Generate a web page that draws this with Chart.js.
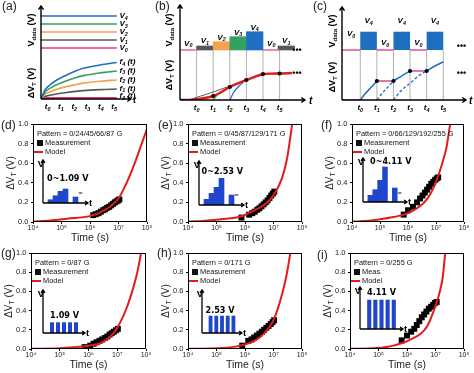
<!DOCTYPE html>
<html>
<head>
<meta charset="utf-8">
<script src="https://cdn.jsdelivr.net/npm/chart.js@4.4.1/dist/chart.umd.min.js"></script>
<style>
  html, body { margin: 0; padding: 0; background: #fff; }
  body { position: relative; width: 474px; height: 373px; overflow: hidden; }
  canvas { position: absolute; }
  .tag { position: absolute; z-index: 5; font: 12px 'Liberation Sans', Arial, sans-serif; color: #222; line-height: 12px; }
</style>
</head>
<body>
<div class="tag" style="left:2px;top:0px">(a)</div>
<div class="tag" style="left:155px;top:0px">(b)</div>
<div class="tag" style="left:313px;top:0px">(c)</div>
<div class="tag" style="left:1px;top:119px">(d)</div>
<div class="tag" style="left:158px;top:119px">(e)</div>
<div class="tag" style="left:321px;top:119px">(f)</div>
<div class="tag" style="left:1px;top:247px">(g)</div>
<div class="tag" style="left:157px;top:247px">(h)</div>
<div class="tag" style="left:317px;top:249px">(i)</div>
<script>
/* ── Degradation figure: schematics (a–c) + ΔVT vs time fits (d–i) ── */

const FONT = "'Liberation Sans', Arial, sans-serif";
const NARROW = "'Liberation Sans Narrow', 'DejaVu Sans Condensed', 'Roboto Condensed', Roboto, sans-serif";
const RED = '#e41a1c';
const INSET_BLUE = '#1f46cc';
const LEVEL_COLORS = ['#1f6fc0', '#35a062', '#f4a24e', '#575757', '#ea3d6e']; // V4 .. V0
const SUP = { 4: '⁴', 5: '⁵', 6: '⁶', 7: '⁷', 8: '⁸' };
const T_SUB = ['0', '1', '2', '3', '4', '5'];

// ── (a) levels and f(t) curves ───────────────────────────────
const aLevelSub = ['4', '3', '2', '1', '0'];
const aLevelY = [83, 75, 67, 59, 51];
const aLevelEnd = [0, 5.7];
const aCurveX = [0, 0.3, 0.67, 1.25, 1.93, 2.6, 3.19, 4.44, 5.7];
const aF4 = [0, 9, 14, 19.5, 24, 28, 30.7, 34, 36.5];
const aF3 = [0, 6.8, 10.7, 14.8, 18.3, 21.3, 23.4, 26.1, 28];
const aF2 = [0, 4.6, 7.3, 10, 12.4, 14.4, 15.9, 17.8, 19];
const aF1 = [0, 2.4, 3.8, 5.2, 6.5, 7.6, 8.4, 9.4, 10];
const aF0 = [0.9, 0.9];
const aFLabelY = [37, 28.5, 19.5, 10.5, 3];
const aTickX = [0.5, 1.5, 2.5, 3.5, 4.5, 5.5];

// ── (b) stepped pattern ──────────────────────────────────────
const bTickX = [1, 2, 3, 4, 5, 6];
const bV0Level = 50;
const bBarX = [1.5, 2.5, 3.5, 4.5, 6.4];
const bBarTop = [54, 58.3, 63.3, 68.3, 54];
const bBarLevel = [1, 2, 3, 4, 1];
const bV0 = [[0, 1], [5, 6]];
const bLabelX = [0.5, 1.5, 2.5, 3.5, 4.5, 5.5, 6.4];
const bLabelSub = ['0', '1', '2', '3', '4', '0', '1'];
const bLabelY = [56.7, 59.3, 62.7, 67.7, 72.7, 56.7, 59.3];
const bRedX = [0, 0.6, 1, 1.5, 2, 2.5, 3, 3.5, 4, 4.5, 5, 5.5, 6, 6.75];
const bRedY = [0, 0, 1, 2, 4, 8, 13, 16.7, 20, 23.2, 26, 26.4, 26.5, 27];
const bThinX = [0.5, 2, 3, 4, 5, 6, 6.75];
const bThinY = [0, 8, 14, 20, 25, 26.5, 27];
const bOrangeX = [1.2, 1.5, 1.75, 2];
const bOrangeY = [0, 1.8, 3, 4];
const bGreenX = [2, 2.25, 2.5, 2.75, 3];
const bGreenY = [0, 5, 8.5, 11, 13];
const bBlueX = [3, 3.25, 3.5, 3.75, 4];
const bBlueY = [0, 8, 13, 17, 20];
const bDotX = [2, 3, 4, 5, 6];
const bDotY = [4, 13, 20, 26, 26.5];

// ── (c) on/off pattern ───────────────────────────────────────
const cTickX = [1.1, 2.1, 3.1, 4.1, 5.1, 6.1];
const cV0Level = 50;
const cBarX = [1.6, 3.6, 5.6];
const cBarTop = 68.3;
const cV0 = [[0, 1.1], [2.1, 3.1], [4.1, 5.1]];
const cLabelX = [0.55, 1.6, 2.6, 3.6, 4.6, 5.6];
const cLabelSub = ['0', '4', '0', '4', '0', '4'];
const cLabelY = [66, 79, 57, 79, 57, 79];
const cSeg1X = [1.1, 1.38, 1.7, 2.1];
const cSeg1Y = [0, 6, 11.7, 19];
const cSeg2X = [3.1, 3.6, 4.1];
const cSeg2Y = [19, 24.2, 29];
const cSeg3X = [5.1, 5.6, 6.1];
const cSeg3Y = [29, 34, 38];
const cDash1X = [2.1, 2.38, 2.7, 3.1];
const cDash1Y = [0, 6, 11.7, 19];
const cDash2X = [3.1, 3.6, 4.1, 4.6, 5.07];
const cDash2Y = [0, 10, 16.7, 24, 29];
const cFlats = [[0, 1.1, 0], [2.1, 3.1, 19], [4.1, 5.1, 29]];
const cDotX = [2.1, 3.1, 4.1, 5.1];
const cDotY = [19, 19, 29, 29];

// ── (d)–(i) model and measurement ────────────────────────────
const X_TICKS = [1e4, 1e5, 1e6, 1e7, 1e8];
const Y_TICKS = [0, 0.2, 0.4, 0.6, 0.8, 1.0];

const dModelX = [1e4, 4e4, 1.6e5, 1e6, 2.4e6, 1e7, 2e7, 3.5e7, 6e7, 1e8];
const dModelY = [0.005, 0.015, 0.034, 0.06, 0.1, 0.24, 0.41, 0.58, 0.77, 0.95];
const dMeasX = [1.3e6, 1.6e6, 2.0e6, 2.4e6, 2.9e6, 3.4e6, 4.0e6, 4.7e6, 5.5e6, 6.4e6, 7.4e6, 8.5e6, 9.6e6, 1.07e7];
const dMeasY = [0.07, 0.08, 0.09, 0.105, 0.12, 0.13, 0.145, 0.155, 0.17, 0.185, 0.2, 0.21, 0.22, 0.23];

const eModelX = [1e4, 4e4, 1.5e5, 7.5e5, 2.2e6, 6.6e6, 1.15e7, 2e7, 3e7, 4.5e7, 5.2e7];
const eModelY = [0.005, 0.013, 0.027, 0.058, 0.12, 0.21, 0.3, 0.45, 0.65, 1.0, 1.15];
const eMeasX = [7.5e5, 1.4e6, 1.8e6, 2.2e6, 2.7e6, 3.2e6, 3.8e6, 4.5e6, 5.3e6, 6.2e6, 7.2e6, 8.3e6, 9.5e6, 1.07e7];
const eMeasY = [0.045, 0.075, 0.09, 0.105, 0.125, 0.14, 0.16, 0.18, 0.2, 0.22, 0.245, 0.27, 0.29, 0.31];

const fModelX = [1e4, 2e4, 7.8e4, 3e5, 1.2e6, 4.7e6, 1e7, 1.8e7, 2.4e7, 3.2e7, 3.6e7];
const fModelY = [0.003, 0.007, 0.024, 0.05, 0.1, 0.23, 0.41, 0.63, 0.77, 1.0, 1.1];
const fMeasX = [7e5, 1e6, 1.5e6, 2.1e6, 2.7e6, 3.3e6, 4e6, 4.8e6, 5.7e6, 6.8e6, 8e6, 9.3e6, 1.07e7, 1.2e7];
const fMeasY = [0.075, 0.12, 0.155, 0.2, 0.24, 0.27, 0.3, 0.33, 0.36, 0.39, 0.41, 0.43, 0.445, 0.455];

const gModelX = [1e4, 1e5, 3e5, 1e6, 2.6e6, 5.7e6, 1e7, 2.2e7, 3.7e7, 5e7, 6.7e7, 7.5e7];
const gModelY = [0.002, 0.008, 0.018, 0.035, 0.06, 0.13, 0.22, 0.44, 0.65, 0.8, 1.0, 1.1];
const gMeasX = [7.3e5, 1.15e6, 1.5e6, 1.9e6, 2.4e6, 3e6, 3.7e6, 4.5e6, 5.4e6, 6.4e6, 7.6e6, 9e6, 1.05e7];
const gMeasY = [0.02, 0.035, 0.055, 0.07, 0.085, 0.1, 0.115, 0.13, 0.15, 0.165, 0.18, 0.195, 0.21];

const hModelX = [1e4, 1.5e5, 5.8e5, 2.2e6, 5e6, 1e7, 2e7, 3e7, 3.9e7, 4.5e7];
const hModelY = [0.002, 0.01, 0.03, 0.087, 0.17, 0.3, 0.57, 0.8, 1.0, 1.12];
const hMeasX = [8e5, 1.3e6, 1.7e6, 2.1e6, 2.6e6, 3.2e6, 3.9e6, 4.7e6, 5.6e6, 6.7e6, 8e6, 9.3e6, 1.05e7];
const hMeasY = [0.035, 0.085, 0.1, 0.12, 0.14, 0.16, 0.18, 0.2, 0.22, 0.24, 0.26, 0.28, 0.3];

const iModelX = [1e4, 8.7e4, 3.3e5, 1.25e6, 4.9e6, 1e7, 1.45e7, 1.8e7, 2.2e7, 2.5e7];
const iModelY = [0.002, 0.01, 0.035, 0.094, 0.23, 0.45, 0.61, 0.75, 1.0, 1.12];
const iMeasX = [6.5e5, 1e6, 1.4e6, 1.8e6, 2.2e6, 2.7e6, 3.3e6, 4e6, 4.8e6, 5.8e6, 7e6, 8.3e6, 9.6e6, 1.1e7];
const iMeasY = [0.09, 0.14, 0.18, 0.21, 0.25, 0.29, 0.33, 0.36, 0.39, 0.42, 0.44, 0.46, 0.48, 0.49];

// inset pulse patterns (heights)
const dInset = [null, 3.3, 7.3, 11.7, 14, 0, 6, null, null];
const dDash = [null, null, null, null, null, null, null, [9.5, 10.5], null];
const eInset = [null, 5.7, 11.7, 17.7, 26.7, 0, 10, null, null];
const eDash = [null, null, null, null, null, null, null, [9.5, 10.5], null];
const fInset = [null, 6.7, 12.3, 21.7, 35, 0, 14, null, null];
const fDash = [null, null, null, null, null, null, null, [8.5, 9.5], null];
const gInset = [null, 10.7, 10.7, 10.7, 10.7, 10.7, null];
const hInset = [null, 17.3, 17.3, 17.3, 17.3, 17.3, null];
const iInset = [null, 29.3, 29.3, 29.3, 29.3, 29.3, null];

// ── helpers ──────────────────────────────────────────────────
Chart.defaults.font.family = FONT;
Chart.defaults.animation = false;
Chart.defaults.plugins.legend.display = false;
Chart.defaults.plugins.tooltip.enabled = false;

const pts = (xs, ys) => xs.map((x, i) => ({ x, y: ys[i] }));
const segs = (list, y) => list.flatMap(([a, b]) => [{ x: a, y }, { x: b, y }, { x: b, y: null }]);
const vlines = (xs, y0, y1) => xs.flatMap(x => [{ x, y: y0 }, { x, y: y1 }, { x, y: null }]);
const curve = { cubicInterpolationMode: 'monotone' };

function ln(data, color, width, extra) {
  return Object.assign({ type: 'line', data, borderColor: color, borderWidth: width, pointRadius: 0, fill: false, spanGaps: false }, extra || {});
}
function dots(xs, ys) {
  return { type: 'line', data: pts(xs, ys), showLine: false, pointRadius: 2.1, pointBackgroundColor: '#000', pointBorderWidth: 0, order: -2 };
}

function addCanvas(left, top, w, h) {
  const c = document.createElement('canvas');
  c.width = w; c.height = h;
  c.style.left = left + 'px'; c.style.top = top + 'px';
  c.style.width = w + 'px'; c.style.height = h + 'px';
  document.body.appendChild(c);
  return c;
}

function drawRich(ctx, parts, x, y, size, o = {}) {
  const fam = o.family || FONT;
  const f = s => `${o.italic ? 'italic ' : ''}${o.bold ? 'bold ' : ''}${s}px ${fam}`;
  ctx.save();
  ctx.translate(x, y);
  if (o.rot) ctx.rotate(o.rot);
  ctx.textBaseline = 'middle';
  ctx.textAlign = 'left';
  ctx.fillStyle = o.color || '#000';
  let w = 0;
  parts.forEach(([t, sub]) => { ctx.font = f(sub ? size * 0.68 : size); w += ctx.measureText(t).width; });
  let cx = o.align === 'left' ? 0 : o.align === 'right' ? -w : -w / 2;
  parts.forEach(([t, sub]) => {
    ctx.font = f(sub ? size * 0.68 : size);
    ctx.fillText(t, cx, sub ? size * 0.3 : 0);
    cx += ctx.measureText(t).width;
  });
  ctx.restore();
}

function arrow(ctx, x1, y1, x2, y2, lw = 1.4, head = 4.5) {
  const a = Math.atan2(y2 - y1, x2 - x1);
  ctx.save();
  ctx.strokeStyle = '#000';
  ctx.lineWidth = lw;
  ctx.beginPath();
  ctx.moveTo(x1, y1); ctx.lineTo(x2, y2);
  ctx.moveTo(x2 - head * Math.cos(a - 0.6), y2 - head * Math.sin(a - 0.6));
  ctx.lineTo(x2, y2);
  ctx.lineTo(x2 - head * Math.cos(a + 0.6), y2 - head * Math.sin(a + 0.6));
  ctx.stroke();
  ctx.restore();
}

function yTitles(ctx, x, y1, y2) {
  drawRich(ctx, [['V', 0], ['data', 1], [' (V)', 0]], x, y1, 9, { bold: true, rot: -Math.PI / 2 });
  drawRich(ctx, [['ΔV', 0], ['T', 1], [' (V)', 0]], x, y2, 9, { bold: true, rot: -Math.PI / 2 });
}

const BI = { bold: true, italic: true };

function schematic(left, top, w, h, area, unit, datasets, draw) {
  const c = addCanvas(left, top, w, h);
  return new Chart(c, {
    type: 'line',
    data: { datasets },
    options: {
      devicePixelRatio: 1, responsive: false, events: [],
      layout: { padding: { left: area.l - left, top: area.t - top, right: left + w - area.r, bottom: top + h - area.b } },
      scales: {
        x: { type: 'linear', display: false, min: 0, max: (area.r - area.l) / unit, offset: false },
        y: { type: 'linear', display: false, min: 0, max: area.b - area.t },
      },
    },
    plugins: [{ id: 'deco', afterDatasetsDraw: draw }],
  });
}

// ── (a) ──────────────────────────────────────────────────────
schematic(0, 0, 155, 115, { l: 41, t: 6, r: 131, b: 99 }, 13.3, [
  ...aLevelY.map((v, i) => ln(pts(aLevelEnd, [v, v]), LEVEL_COLORS[i], 1.6)),
  ln(pts(aCurveX, aF4), LEVEL_COLORS[0], 1.6, curve),
  ln(pts(aCurveX, aF3), LEVEL_COLORS[1], 1.6, curve),
  ln(pts(aCurveX, aF2), LEVEL_COLORS[2], 1.6, curve),
  ln(pts(aCurveX, aF1), LEVEL_COLORS[3], 1.6, curve),
  ln(pts(aLevelEnd, aF0), LEVEL_COLORS[4], 2.4),
], chart => {
  const { ctx, chartArea: a, scales: { x, y } } = chart;
  arrow(ctx, a.left, a.bottom, a.left, a.top);
  arrow(ctx, a.left, a.bottom, a.right, a.bottom);
  const lx = x.getPixelForValue(5.9);
  aLevelY.forEach((v, i) => drawRich(ctx, [['V', 0], [aLevelSub[i], 1]], lx, y.getPixelForValue(v), 8, { ...BI, align: 'left' }));
  aFLabelY.forEach((v, i) => drawRich(ctx, [['f', 0], [aLevelSub[i], 1], [' (t)', 0]], lx, y.getPixelForValue(v), 8, { ...BI, align: 'left' }));
  aTickX.forEach((t, i) => drawRich(ctx, [['t', 0], [T_SUB[i], 1]], x.getPixelForValue(t), a.bottom + 8, 8, BI));
  drawRich(ctx, [['t', 0]], a.right + 2, a.bottom + 2, 9, { ...BI, align: 'left' });
  yTitles(ctx, 32, 30, 83);
});

// ── (b) ──────────────────────────────────────────────────────
schematic(155, 0, 160, 115, { l: 180, t: 5, r: 305, b: 100 }, 16.6, [
  ln(vlines(bTickX, 0, bV0Level), '#9c9c9c', 0.8, { order: 4 }),
  { type: 'bar', data: bBarX.map((x, i) => ({ x, y: [bV0Level, bBarTop[i]] })),
    backgroundColor: bBarLevel.map(l => LEVEL_COLORS[4 - l]), barPercentage: 1, categoryPercentage: 1, grouped: false, order: 3 },
  ln(segs(bV0, bV0Level), '#e26aa6', 1.6, { order: 2 }),
  ln(pts(bThinX, bThinY), '#333', 0.8, { ...curve, order: 1 }),
  ln(pts(bOrangeX, bOrangeY), LEVEL_COLORS[2], 1.1, { ...curve, order: 1 }),
  ln(pts(bGreenX, bGreenY), LEVEL_COLORS[1], 1.1, { ...curve, order: 1 }),
  ln(pts(bBlueX, bBlueY), LEVEL_COLORS[0], 1.3, { ...curve, order: 1 }),
  ln(pts(bRedX, bRedY), RED, 2.4, { ...curve, order: 0 }),
  dots(bDotX, bDotY),
], chart => {
  const { ctx, chartArea: a, scales: { x, y } } = chart;
  arrow(ctx, a.left, a.bottom, a.left, a.top);
  arrow(ctx, a.left, a.bottom, a.right, a.bottom);
  bLabelX.forEach((v, i) => drawRich(ctx, [['V', 0], [bLabelSub[i], 1]], x.getPixelForValue(v), y.getPixelForValue(bLabelY[i]), 8, BI));
  bTickX.forEach((t, i) => drawRich(ctx, [['t', 0], [T_SUB[i], 1]], x.getPixelForValue(t), a.bottom + 8, 8, BI));
  drawRich(ctx, [['t', 0]], a.right + 4, a.bottom + 1, 10, { ...BI, align: 'left' });
  drawRich(ctx, [['•••', 0]], x.getPixelForValue(7.05), y.getPixelForValue(bV0Level) + 1, 9, { bold: true });
  drawRich(ctx, [['•••', 0]], x.getPixelForValue(7.05), y.getPixelForValue(26.5), 9, { bold: true });
  yTitles(ctx, 15, 30, 75);
});

// ── (c) ──────────────────────────────────────────────────────
schematic(310, 0, 164, 115, { l: 342, t: 7, r: 466, b: 100 }, 16.6, [
  ln(vlines(cTickX, 0, cV0Level), '#9c9c9c', 0.8, { order: 4 }),
  { type: 'bar', data: cBarX.map(x => ({ x, y: [cV0Level, cBarTop] })),
    backgroundColor: LEVEL_COLORS[0], barPercentage: 0.5, categoryPercentage: 1, grouped: false, order: 3 },
  ln(segs(cV0, cV0Level), '#e4508c', 1.6, { order: 2 }),
  ...cFlats.map(([a, b, v]) => ln(pts([a, b], [v, v]), '#e4508c', 1.6, { order: 1 })),
  ln(pts(cSeg1X, cSeg1Y), LEVEL_COLORS[0], 1.5, { ...curve, order: 0 }),
  ln(pts(cSeg2X, cSeg2Y), LEVEL_COLORS[0], 1.5, { ...curve, order: 0 }),
  ln(pts(cSeg3X, cSeg3Y), LEVEL_COLORS[0], 1.5, { ...curve, order: 0 }),
  ln(pts(cDash1X, cDash1Y), LEVEL_COLORS[0], 1.3, { ...curve, borderDash: [3, 2], order: 0 }),
  ln(pts(cDash2X, cDash2Y), LEVEL_COLORS[0], 1.3, { ...curve, borderDash: [3, 2], order: 0 }),
  dots(cDotX, cDotY),
], chart => {
  const { ctx, chartArea: a, scales: { x, y } } = chart;
  arrow(ctx, a.left, a.bottom, a.left, a.top);
  arrow(ctx, a.left, a.bottom, a.right, a.bottom);
  cLabelX.forEach((v, i) => drawRich(ctx, [['V', 0], [cLabelSub[i], 1]], x.getPixelForValue(v), y.getPixelForValue(cLabelY[i]), 8, BI));
  cTickX.forEach((t, i) => drawRich(ctx, [['t', 0], [T_SUB[i], 1]], x.getPixelForValue(t), a.bottom + 8, 8, BI));
  drawRich(ctx, [['t', 0]], a.right + 3, a.bottom + 1, 10, { ...BI, align: 'left' });
  drawRich(ctx, [['•••', 0]], x.getPixelForValue(7.2), y.getPixelForValue(cV0Level) - 3, 9, { bold: true });
  drawRich(ctx, [['•••', 0]], x.getPixelForValue(7.2), y.getPixelForValue(26), 9, { bold: true });
  yTitles(ctx, 23, 31, 77);
});

// ── (d)–(i) log panels ───────────────────────────────────────
function logPanel(L, T, R, B, mx, my, sx, sy, pattern, measName) {
  const c = addCanvas(L - 34, T - 12, R - L + 44, B - T + 42);
  return new Chart(c, {
    type: 'line',
    data: {
      datasets: [
        { data: pts(mx, my), borderColor: RED, borderWidth: 2, pointRadius: 0, cubicInterpolationMode: 'monotone', order: 0 },
        { data: pts(sx, sy), showLine: false, pointStyle: 'rect', pointRadius: 4.2, pointBackgroundColor: '#000', pointBorderWidth: 0, order: 1 },
      ],
    },
    options: {
      devicePixelRatio: 1, responsive: false, events: [],
      layout: { padding: { top: 12, right: 10, left: 0, bottom: 0 } },
      scales: {
        x: {
          type: 'logarithmic', min: 1e4, max: 1e8,
          afterBuildTicks: s => { s.ticks = X_TICKS.map(v => ({ value: v })); },
          afterFit: s => { s.height = 30; },
          ticks: { callback: v => '10' + SUP[Math.round(Math.log10(v))], font: { size: 7 }, color: '#222', padding: 0, maxRotation: 0, autoSkip: false },
          grid: { drawOnChartArea: false, tickLength: 2, color: '#000' },
          border: { display: false },
          title: { display: true, text: 'Time (s)', font: { size: 10.5 }, color: '#222', padding: { top: 0, bottom: 7.5 } },
        },
        y: {
          min: 0, max: 1,
          afterBuildTicks: s => { s.ticks = Y_TICKS.map(v => ({ value: v })); },
          afterFit: s => { s.width = 34; },
          ticks: { callback: v => v.toFixed(1), font: { size: 7.5 }, color: '#222', padding: 2.5 },
          grid: { drawOnChartArea: false, tickLength: 2, color: '#000' },
          border: { display: false },
        },
      },
    },
    plugins: [{
      id: 'frame',
      afterDraw(chart) {
        const { ctx, chartArea: a } = chart;
        ctx.save();
        ctx.strokeStyle = '#000';
        ctx.lineWidth = 1;
        ctx.strokeRect(Math.round(a.left) + 0.5, Math.round(a.top) + 0.5, Math.round(a.right - a.left) - 1, Math.round(a.bottom - a.top) - 1);
        ctx.fillStyle = '#111';
        ctx.textBaseline = 'middle';
        ctx.textAlign = 'left';
        ctx.font = `7.4px ${FONT}`;
        ctx.fillText(pattern, a.left + 4, a.top + 10);
        ctx.fillRect(a.left + 4, a.top + 16, 6, 6);
        ctx.fillText(measName, a.left + 12, a.top + 19);
        ctx.strokeStyle = RED;
        ctx.lineWidth = 2;
        ctx.beginPath();
        ctx.moveTo(a.left + 1, a.top + 28);
        ctx.lineTo(a.left + 10, a.top + 28);
        ctx.stroke();
        ctx.fillText('Model', a.left + 12, a.top + 28);
        ctx.restore();
        drawRich(ctx, [['ΔV', 0], ['T', 1], [' (V)', 0]], a.left - 22, (a.top + a.bottom) / 2, 10, { rot: -Math.PI / 2, color: '#222' });
      },
    }],
  });
}

function inset(ax, tip, base, top, vals, dash, bp, label, dx, ly) {
  const c = addCanvas(ax - 12, top - 8, tip - ax + 24, base - top + 16);
  const sets = [{ data: vals, backgroundColor: INSET_BLUE, barPercentage: bp, categoryPercentage: 1, grouped: false, order: 1 }];
  if (dash) sets.push({ data: dash, backgroundColor: '#111', barPercentage: 0.7, categoryPercentage: 1, grouped: false, order: 0 });
  return new Chart(c, {
    type: 'bar',
    data: { labels: vals.map((_, i) => 's' + i), datasets: sets },
    options: {
      devicePixelRatio: 1, responsive: false, events: [],
      layout: { padding: { left: 12, top: 8, right: 12, bottom: 8 } },
      scales: { x: { display: false }, y: { display: false, min: 0, max: base - top } },
    },
    plugins: [{
      id: 'axes',
      afterDatasetsDraw(chart) {
        const { ctx, chartArea: a, scales: { y } } = chart;
        arrow(ctx, a.left, a.bottom, a.left, a.top, 1.3, 3.5);
        arrow(ctx, a.left, a.bottom, a.right, a.bottom, 1.3, 3.5);
        drawRich(ctx, [['V', 0]], a.left + 1, a.top + 4, 9.5, { bold: true, align: 'right' });
        drawRich(ctx, [['t', 0]], a.right + 1, a.bottom, 9.5, { bold: true, align: 'left' });
        drawRich(ctx, [[label, 0]], a.left + dx, y.getPixelForValue(ly), 9, { bold: true, align: 'left', family: NARROW });
      },
    }],
  });
}

logPanel(33, 124, 147, 222, dModelX, dModelY, dMeasX, dMeasY, 'Pattern = 0/24/45/66/87 G', 'Measurement');
logPanel(188, 124, 302, 222, eModelX, eModelY, eMeasX, eMeasY, 'Pattern = 0/45/87/129/171 G', 'Measurement');
logPanel(352, 124, 464, 222, fModelX, fModelY, fMeasX, fMeasY, 'Pattern = 0/66/129/192/255 G', 'Measurement');
logPanel(31, 253, 146, 349, gModelX, gModelY, gMeasX, gMeasY, 'Pattern = 0/87 G', 'Measurement');
logPanel(188, 253, 302, 349, hModelX, hModelY, hMeasX, hMeasY, 'Pattern = 0/171 G', 'Measurement');
logPanel(350, 253, 464, 349, iModelX, iModelY, iMeasX, iMeasY, 'Pattern = 0/255 G', 'Meas.');

inset(43, 88, 203, 160, dInset, dDash, 1, '0~1.09 V', 4, 24);
inset(199, 244, 205, 161, eInset, eDash, 1, '0~2.53 V', 2.5, 33);
inset(363, 407, 202, 158, fInset, fDash, 1, '0~4.11 V', 7, 40);
inset(43, 85, 333, 290, gInset, null, 0.67, '1.09 V', 7, 17);
inset(202, 242, 333, 290, hInset, null, 0.67, '2.53 V', 3.5, 22.5);
inset(360, 403, 329, 287, iInset, null, 0.67, '4.11 V', 7, 36.5);
</script>
</body>
</html>
